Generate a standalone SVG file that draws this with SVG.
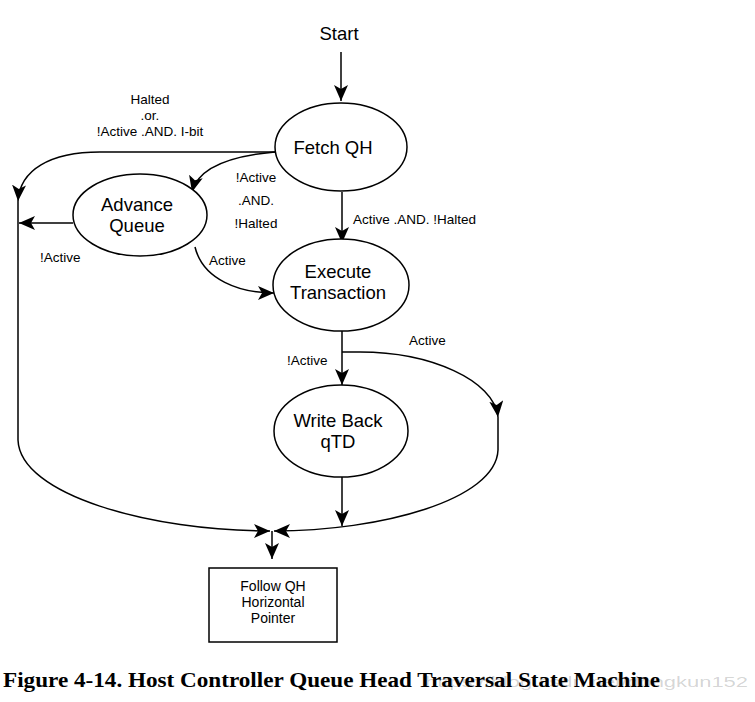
<svg xmlns="http://www.w3.org/2000/svg" width="755" height="702" viewBox="0 0 755 702">
<style>
.n{fill:#fff;stroke:#000;stroke-width:1.5}
.c{fill:none;stroke:#000;stroke-width:1.5}
.t{font-family:"Liberation Sans",Arial,sans-serif;font-size:18.5px;text-anchor:middle;fill:#000}
.l{font-family:"Liberation Sans",Arial,sans-serif;font-size:13.5px;fill:#000}
.m{text-anchor:middle}
.s{font-family:"Liberation Sans",Arial,sans-serif;font-size:14px;text-anchor:middle;fill:#000}
</style>
<defs>
<marker id="a" viewBox="0 0 16 14" refX="16" refY="7" markerWidth="16" markerHeight="14" markerUnits="userSpaceOnUse" orient="auto">
<path d="M0,0 L16,7 L0,14 L4,7 z" fill="#000"/>
</marker>
</defs>
<rect width="755" height="702" fill="#fff"/>
<g id="connectors">
<path class="c" d="M341,52 L341,101" marker-end="url(#a)"/>
<path class="c" d="M342,192 L342,243" marker-end="url(#a)"/>
<path class="c" d="M275,152 C230,156 198,168 192,192" marker-end="url(#a)"/>
<path class="c" d="M275,152 L100,152 C50,152 20,170 18,201" marker-end="url(#a)"/>
<path class="c" d="M18,201 L18,440 C20,495 150,531 270,531" marker-end="url(#a)"/>
<path class="c" d="M73,223 L19,223" marker-end="url(#a)"/>
<path class="c" d="M195,247 C203,280 240,293 274,293" marker-end="url(#a)"/>
<path class="c" d="M342,331 L342,385" marker-end="url(#a)"/>
<path class="c" d="M342,352 L360,352 C430,352 494,380 498,417" marker-end="url(#a)"/>
<path class="c" d="M498,417 L498,450 C496,500 380,531 274,531" marker-end="url(#a)"/>
<path class="c" d="M342,477 L342,526" marker-end="url(#a)"/>
<path class="c" d="M272,531 L272,559" marker-end="url(#a)"/>
</g>
<g id="start"><text class="t" x="339" y="40">Start</text></g>
<g id="fetch-qh">
<ellipse class="n" cx="341" cy="147" rx="66" ry="44"/>
<text class="t" x="333" y="154">Fetch QH</text>
</g>
<g id="advance-queue">
<ellipse class="n" cx="140" cy="215" rx="67" ry="41"/>
<text class="t" x="137" y="211">Advance</text>
<text class="t" x="137" y="232">Queue</text>
</g>
<g id="execute-transaction">
<ellipse class="n" cx="341" cy="285" rx="68" ry="46"/>
<text class="t" x="338" y="278">Execute</text>
<text class="t" x="338" y="299">Transaction</text>
</g>
<g id="write-back-qtd">
<ellipse class="n" cx="341" cy="431" rx="67" ry="46"/>
<text class="t" x="338" y="427">Write Back</text>
<text class="t" x="338" y="448">qTD</text>
</g>
<g id="follow-qh">
<rect class="n" x="209" y="568" width="128" height="74"/>
<text class="s" x="273" y="591">Follow QH</text>
<text class="s" x="273" y="607">Horizontal</text>
<text class="s" x="273" y="623">Pointer</text>
</g>
<g id="labels">
<text class="l m" x="150" y="104">Halted</text>
<text class="l m" x="150" y="120">.or.</text>
<text class="l m" x="150" y="136">!Active .AND. I-bit</text>
<text class="l m" x="256" y="182">!Active</text>
<text class="l m" x="256" y="205">.AND.</text>
<text class="l m" x="256" y="228">!Halted</text>
<text class="l" x="353" y="224">Active .AND. !Halted</text>
<text class="l" x="40" y="262">!Active</text>
<text class="l" x="209" y="265">Active</text>
<text class="l" x="409" y="345">Active</text>
<text class="l" x="287" y="365">!Active</text>
</g>
<text x="3" y="687" font-family="'Liberation Serif','Times New Roman',serif" font-weight="bold" font-size="22" textLength="657" lengthAdjust="spacingAndGlyphs" fill="#000">Figure 4-14. Host Controller Queue Head Traversal State Machine</text>
<text x="425" y="687" font-family="'Liberation Sans',Arial,sans-serif" font-size="15" textLength="323" lengthAdjust="spacingAndGlyphs" fill="#000" fill-opacity="0.18">https://blog.csdn.net/dongkun152</text>
</svg>
